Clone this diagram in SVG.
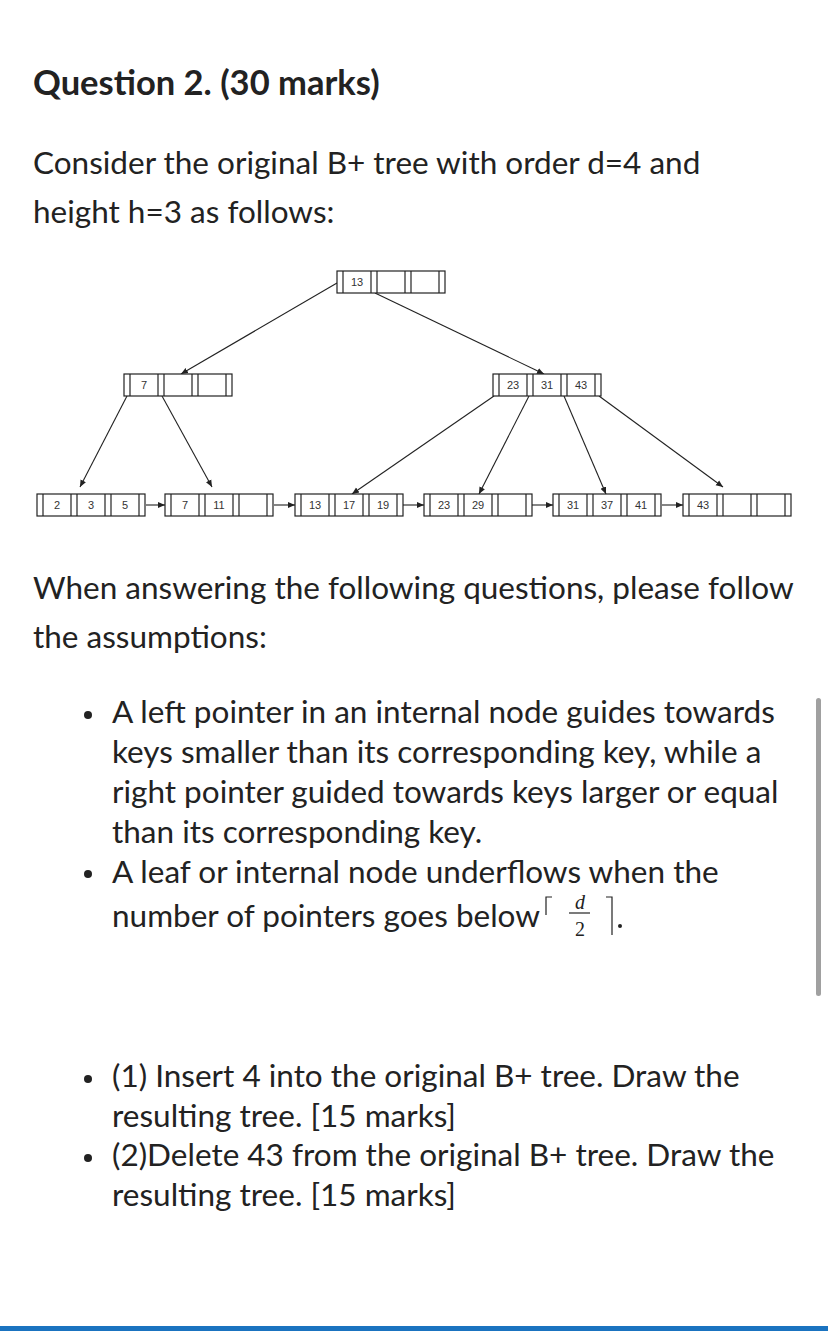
<svg xmlns="http://www.w3.org/2000/svg" width="828" height="1331" viewBox="0 0 828 1331">
<style>
.t{font-family:Lato,"Liberation Sans",sans-serif;fill:#222;font-size:31.5px}
.k{font-family:"Liberation Sans",Arial,sans-serif;font-size:11px;fill:#333;text-anchor:middle}
.c line{stroke:#222;stroke-width:1.1}
</style>
<defs>
<marker id="a" markerWidth="8" markerHeight="8" refX="7" refY="4" orient="auto" markerUnits="userSpaceOnUse"><path d="M0,1 L7,4 L0,7z" fill="#222"/></marker>
<g id="node" stroke="#222" stroke-width="1.2">
<rect x="0" y="0" width="108" height="22" fill="#fff"/>
<line x1="6" y1="0" x2="6" y2="22"/><line x1="34" y1="0" x2="34" y2="22"/>
<line x1="40" y1="0" x2="40" y2="22"/><line x1="68" y1="0" x2="68" y2="22"/>
<line x1="74" y1="0" x2="74" y2="22"/><line x1="102" y1="0" x2="102" y2="22"/>
</g>
</defs>
<rect width="828" height="1331" fill="#fff"/>
<text x="33" y="95" class="t" style="font-weight:bold;font-size:34.5px">Question 2. (30 marks)</text>
<text x="33" y="174" class="t">Consider the original B+ tree with order d=4 and</text>
<text x="33" y="223" class="t">height h=3 as follows:</text>

<g class="c" marker-end="url(#a)">
<line x1="337" y1="283" x2="181" y2="374"/>
<line x1="375" y1="293" x2="544" y2="374"/>
<line x1="127" y1="396" x2="80" y2="487"/>
<line x1="162" y1="396" x2="212" y2="487"/>
<line x1="494" y1="396" x2="352" y2="494"/>
<line x1="529" y1="396" x2="479" y2="494"/>
<line x1="564" y1="396" x2="606" y2="494"/>
<line x1="599" y1="396" x2="723" y2="487"/>
<line x1="146" y1="505" x2="165" y2="505"/>
<line x1="274" y1="505" x2="295" y2="505"/>
<line x1="403" y1="505" x2="424" y2="505"/>
<line x1="532" y1="505" x2="553" y2="505"/>
<line x1="662" y1="505" x2="683" y2="505"/>
</g>

<g id="root"><use href="#node" x="337" y="271"/><text class="k" x="357" y="286">13</text></g>
<g id="i7"><use href="#node" x="124" y="374"/><text class="k" x="144" y="389">7</text></g>
<g id="i23"><use href="#node" x="493" y="374"/><text class="k" x="513" y="389">23</text><text class="k" x="547" y="389">31</text><text class="k" x="581" y="389">43</text></g>
<g id="l1"><use href="#node" x="37" y="494"/><text class="k" x="57" y="509">2</text><text class="k" x="91" y="509">3</text><text class="k" x="125" y="509">5</text></g>
<g id="l2"><use href="#node" x="165" y="494"/><text class="k" x="185" y="509">7</text><text class="k" x="219" y="509">11</text></g>
<g id="l3"><use href="#node" x="295" y="494"/><text class="k" x="315" y="509">13</text><text class="k" x="349" y="509">17</text><text class="k" x="383" y="509">19</text></g>
<g id="l4"><use href="#node" x="424" y="494"/><text class="k" x="444" y="509">23</text><text class="k" x="478" y="509">29</text></g>
<g id="l5"><use href="#node" x="553" y="494"/><text class="k" x="573" y="509">31</text><text class="k" x="607" y="509">37</text><text class="k" x="641" y="509">41</text></g>
<g id="l6"><use href="#node" x="683" y="494"/><text class="k" x="703" y="509">43</text></g>

<text x="33" y="599" class="t">When answering the following questions, please follow</text>
<text x="33" y="648" class="t">the assumptions:</text>

<g class="t">
<circle cx="88" cy="715" r="4" fill="#222"/>
<text x="112" y="723">A left pointer in an internal node guides towards</text>
<text x="112" y="763">keys smaller than its corresponding key, while a</text>
<text x="112" y="803">right pointer guided towards keys larger or equal</text>
<text x="112" y="843">than its corresponding key.</text>
<circle cx="88" cy="874" r="4" fill="#222"/>
<text x="112" y="883">A leaf or internal node underflows when the</text>
<text x="112" y="927">number of pointers goes below</text>
</g>
<path d="M546,915 V897 H552 M606,897 H612 V935" fill="none" stroke="#222" stroke-width="1.2"/>
<text x="580" y="909" font-family="Liberation Serif,serif" font-style="italic" font-size="20" text-anchor="middle" fill="#222">d</text>
<line x1="569" y1="913" x2="590" y2="913" stroke="#222" stroke-width="1.2"/>
<text x="580" y="936" font-family="Liberation Serif,serif" font-size="20" text-anchor="middle" fill="#222">2</text>
<circle cx="620" cy="926" r="2" fill="#222"/>

<g class="t">
<circle cx="88" cy="1079" r="4" fill="#222"/>
<text x="112" y="1087">(1) Insert 4 into the original B+ tree. Draw the</text>
<text x="112" y="1127">resulting tree. [15 marks]</text>
<circle cx="88" cy="1158" r="4" fill="#222"/>
<text x="112" y="1166">(2)Delete 43 from the original B+ tree. Draw the</text>
<text x="112" y="1206">resulting tree. [15 marks]</text>
</g>
<rect x="816" y="698" width="5" height="298" rx="2.5" fill="#a0a0a0"/>
<rect x="0" y="1326" width="828" height="5" fill="#1a73c0"/>
</svg>
